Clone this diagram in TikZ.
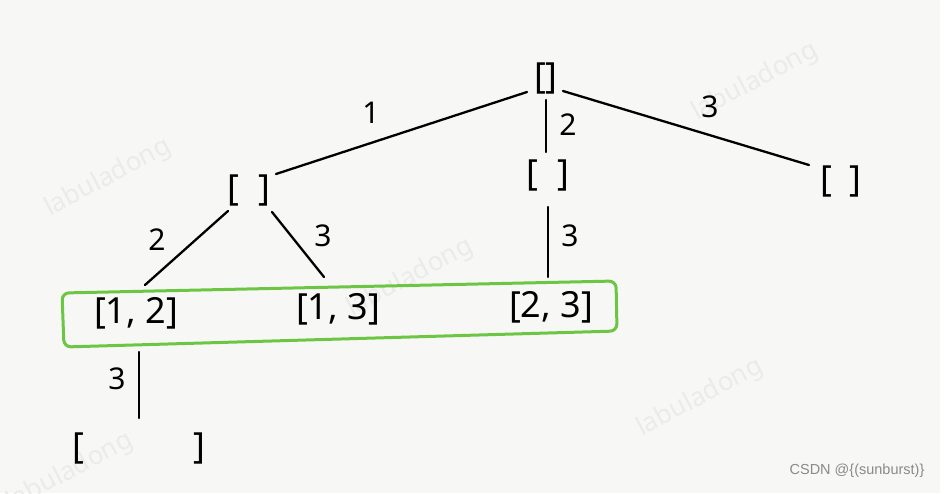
\documentclass[tikz,border=0pt]{standalone}
\usepackage{fontspec}
\setmainfont{Noto Sans}
\newfontfamily\csdnfont{Liberation Sans}
\usetikzlibrary{calc}
\definecolor{bg}{HTML}{F7F7F5}
\definecolor{boxgreen}{HTML}{6CC644}
\definecolor{wm}{HTML}{EBEBE9}
\definecolor{csdn}{HTML}{8A8A8A}
\begin{document}
\begin{tikzpicture}[x=1pt,y=-1pt,
  state/.style={inner sep=0pt, font=\fontsize{36}{40}\selectfont},
  lbl/.style={inner sep=0pt, font=\fontsize{30}{34}\selectfont},
  edge/.style={line width=2.3pt, black, line cap=round},
  wmark/.style={text=wm, rotate=28, inner sep=0pt, font=\fontsize{26}{28}\selectfont\bfseries},
  groupbox/.style={draw=boxgreen, line width=3pt, rounded corners=7pt}]
\fill[bg] (0,0) rectangle (940,493);
\fill[white] (940,0) rectangle (949,493);
\useasboundingbox (0,0) rectangle (949,493);
% watermarks
\node[wmark] (w1) at (108,178) {labuladong};
\node[wmark] (w2) at (755,82) {labuladong};
\node[wmark] (w3) at (410,278) {labuladong};
\node[wmark] (w4) at (700,398) {labuladong};
\node[wmark] (w5) at (70,472) {labuladong};
% group box
\draw[groupbox] (62,293) -- (616,281) -- (617,331) -- (64,347) -- cycle;
% states
\node[state] (R)  at (546,78)  {[\kern-1pt]};
\node[state] (L)  at (249,190) {[\hspace{19pt}]};
\node[state] (M)  at (548,175) {[\hspace{19pt}]};
\node[state] (Rt) at (841,181) {[\hspace{17pt}]};
\node[state] (A)  at (136,313) {[1, 2]};
\node[state] (B)  at (338,309) {[1, 3]};
\node[state] (C)  at (551,307) {[2, 3]};
\node[state] (D)  at (139,448) {[\hspace{109pt}]};
% edges
\draw[edge] ($(R)+(-19,14)$) -- ($(L)+(27,-16)$);
\draw[edge] ($(R)+(0,22)$) -- ($(M)+(-2,-23)$);
\draw[edge] ($(R)+(17,13)$) -- ($(Rt)+(-32,-16)$);
\draw[edge] ($(L)+(-21,21)$) -- ($(A)+(9,-28)$);
\draw[edge] ($(L)+(23,22)$) -- ($(B)+(-14,-32)$);
\draw[edge] ($(M)+(0,32)$) -- ($(C)+(-3,-30)$);
\draw[edge] ($(A)+(3,39)$) -- ($(D)+(0,-30)$);
% edge labels
\node[lbl] (l1) at (371,113) {1};
\node[lbl] (l2) at (568,125) {2};
\node[lbl] (l3) at (710,107) {3};
\node[lbl] (l4) at (157,240) {2};
\node[lbl] (l5) at (323,236) {3};
\node[lbl] (l6) at (570,236) {3};
\node[lbl] (l7) at (117,379) {3};
% signature
\node[text=csdn, inner sep=0pt, font=\csdnfont\fontsize{14.5}{16}\selectfont] (sig) at (857,471) {CSDN @\{(sunburst)\}};
\end{tikzpicture}
\end{document}
